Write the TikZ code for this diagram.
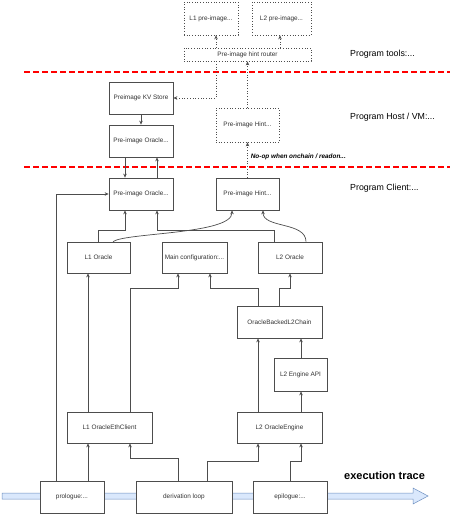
\documentclass[tikz,border=0pt]{standalone}
\usepackage{fontspec}
\setmainfont{Liberation Sans}
\usetikzlibrary{arrows.meta,calc}
\definecolor{boxline}{HTML}{4D4D4D}
\definecolor{boxtext}{HTML}{333333}
\definecolor{trfill}{HTML}{DAE8FC}
\definecolor{trline}{HTML}{6C8EBF}
\tikzset{
  x=1pt,y=-1pt,
  box/.style={draw=boxline,line width=0.7pt,fill=white,text=boxtext,inner sep=1pt,
    font=\fontsize{6.4}{7.5}\selectfont,align=center},
  dotbox/.style={box,dotted},
  arr/.style={draw=boxline,line width=0.7pt,-{Stealth[length=4pt,width=3.5pt]}},
  dotarr/.style={arr,dotted},
  layer/.style={font=\fontsize{8.8}{10}\selectfont,anchor=west,inner sep=0pt},
  sep/.style={draw=red,line width=1.5pt,dash pattern=on 6pt off 3pt},
}
\begin{document}
\begin{tikzpicture}
\useasboundingbox (0,0) rectangle (474,516);
% execution trace arrow (background)
\draw[fill=trfill,draw=trline,line width=0.5pt] (2,493) -- (413,493) -- (413,488) -- (428,496) -- (413,504) -- (413,499) -- (2,499) -- cycle;
% separators
\draw[sep] (24,72) -- (450,72);
\draw[sep] (24,167) -- (450,167);
% layer labels
\node[layer] (ltools) at (350,54) {Program tools:...};
\node[layer] (lhost) at (350,117) {Program Host / VM:...};
\node[layer] (lclient) at (350,188) {Program Client:...};
\node[layer,font=\bfseries\fontsize{11}{13}\selectfont] (ltrace) at (344,476) {execution trace};
% nodes
\node[dotbox,minimum width=54,minimum height=33] (l1pre) at (211,18.5) {L1 pre-image...};
\node[dotbox,minimum width=59,minimum height=33] (l2pre) at (281.5,18.5) {L2 pre-image...};
\node[dotbox,minimum width=127,minimum height=13] (router) at (247.5,54.5) {Pre-image hint router};
\node[box,minimum width=64,minimum height=32] (kv) at (141,98) {Preimage KV Store};
\node[box,minimum width=64,minimum height=32] (hostor) at (141,141) {Pre-image Oracle...};
\node[dotbox,minimum width=63,minimum height=34] (hosthint) at (247.5,125) {Pre-image Hint...};
\node[box,minimum width=64,minimum height=32] (clior) at (141,194) {Pre-image Oracle...};
\node[box,minimum width=63,minimum height=32] (clihint) at (247.5,194) {Pre-image Hint...};
\node[box,minimum width=63,minimum height=31] (l1o) at (98.5,257.5) {L1 Oracle};
\node[box,minimum width=65,minimum height=31] (mainc) at (194.5,257.5) {Main configuration:...};
\node[box,minimum width=64,minimum height=31] (l2o) at (290,257.5) {L2 Oracle};
\node[box,minimum width=85,minimum height=32] (chain) at (279.5,322) {OracleBackedL2Chain};
\node[box,minimum width=53,minimum height=33] (api) at (300.5,374.5) {L2 Engine API};
\node[box,minimum width=85,minimum height=31] (ethc) at (109.5,427.5) {L1 OracleEthClient};
\node[box,minimum width=85,minimum height=31] (eng) at (279.5,427.5) {L2 OracleEngine};
\node[box,minimum width=64,minimum height=32] (pro) at (72,497) {prologue:...};
\node[box,minimum width=96,minimum height=32] (der) at (184,497) {derivation loop};
\node[box,minimum width=74,minimum height=32] (epi) at (290,497) {epilogue:...};
% connectors: tools / host
\draw[dotarr] (router.north -| 216,0) -- (l1pre.south -| 216,0);
\draw[dotarr] (router.north -| 280,0) -- (l2pre.south -| 280,0);
\draw[dotarr] (router.south -| 216,0) |- (kv.east);
\draw[dotarr] (hosthint.north) -- (router.south -| hosthint.north);
\draw[arr] (kv) -- (hostor);
\draw[arr] (hostor.south -| 125,0) -- (clior.north -| 125,0);
\draw[arr] (clior.north -| 157,0) -- (hostor.south -| 157,0);
\draw[dotarr] (clihint) -- (hosthint)
  node[pos=0.6,anchor=west,inner sep=1pt,xshift=2pt,text=black,font=\bfseries\itshape\fontsize{6.4}{7.5}\selectfont] (noop) {No-op when onchain / readon...};
% client
\draw[arr] (pro.north -| 56,0) |- (clior.west);
\draw[arr] (l1o.north) -- ++(0,-11) -| ([xshift=-16pt]clior.south);
\draw[arr] (l2o.north -| 274,0) -- ++(0,-11) -| ([xshift=16pt]clior.south);
\draw[arr] ([xshift=14.5pt]l1o.north) .. controls +(12,-9) and +(0,24) .. ([xshift=-15.5pt]clihint.south);
\draw[arr] ([xshift=16pt]l2o.north) .. controls +(0,-20) and +(0,18) .. ([xshift=15.5pt]clihint.south);
\draw[arr] (ethc.north -| 88,0) -- (l1o.south -| 88,0);
\draw[arr] (ethc.north -| 130,0) -- ++(0,-123) -| ([xshift=-16.5pt]mainc.south);
\draw[arr] (chain.north -| 258,0) -- ++(0,-17) -| ([xshift=15.5pt]mainc.south);
\draw[arr] (chain.north -| 279,0) -- ++(0,-17) -| (l2o.south);
\draw[arr] (eng.north -| 258,0) -- (chain.south -| 258,0);
\draw[arr] (eng.north -| 301,0) -- (api.south -| 301,0);
\draw[arr] (api.north -| 301,0) -- (chain.south -| 301,0);
\draw[arr] (pro.north -| 88,0) -- (ethc.south -| 88,0);
\draw[arr] (der.north -| 178,0) -- ++(0,-22) -| (ethc.south -| 130,0);
\draw[arr] (der.north -| 207,0) -- ++(0,-19) -| (eng.south -| 258,0);
\draw[arr] (epi.north) -- ++(0,-19) -| (eng.south -| 301,0);
\end{tikzpicture}
\end{document}
